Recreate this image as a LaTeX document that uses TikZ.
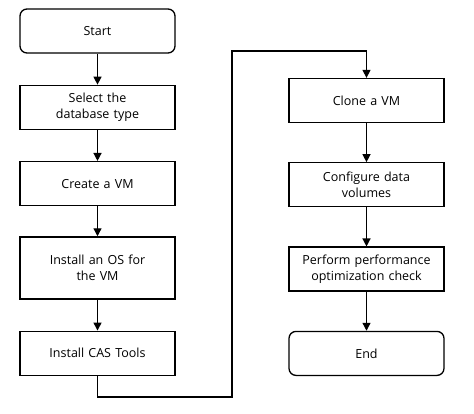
\documentclass[tikz,border=0pt]{standalone}
\usepackage{fontspec}
\setmainfont{Open Sans}
\usetikzlibrary{arrows.meta,positioning}

\begin{document}
\begin{tikzpicture}[x=1pt,y=1pt,
  node distance=31pt,
  box/.style={draw=black,line width=1.3pt,fill=white,align=center,
    text width=150pt,minimum width=155pt,minimum height=44pt,inner sep=2pt,
    font=\fontsize{12.5}{16}\selectfont},
  term/.style={box,rounded corners=7pt},
  arrow/.style={-{Triangle[length=8pt,width=8pt]},line width=1.3pt,draw=black}]
\useasboundingbox (0,0) rectangle (474,-413);
\node[term] (start) at (97.5,-31) {Start};
\node[box,below=of start] (dbtype) {Select the\\database type};
\node[box,below=of dbtype] (createvm) {Create a VM};
\node[box,below=30pt of createvm,minimum height=62pt] (installos) {Install an OS for\\the VM};
\node[box,below=of installos] (castools) {Install CAS Tools};
\node[box] (clonevm) at (366.5,-100.5) {Clone a VM};
\node[box,below=39pt of clonevm] (datavol) {Configure data\\volumes};
\node[box,below=39pt of datavol] (perfcheck) {Perform performance\\optimization check};
\node[term,below=39pt of perfcheck] (finish) {End};
\coordinate (bend) at (232,-397);
\coordinate (top) at (232,-51);
\draw[arrow] (start) -- (dbtype);
\draw[arrow] (dbtype) -- (createvm);
\draw[arrow] (createvm) -- (installos);
\draw[arrow] (installos) -- (castools);
\draw[arrow] (castools.south) |- (bend) -- (top) -| (clonevm.north);
\draw[arrow] (clonevm) -- (datavol);
\draw[arrow] (datavol) -- (perfcheck);
\draw[arrow] (perfcheck) -- (finish);
\end{tikzpicture}
\end{document}
